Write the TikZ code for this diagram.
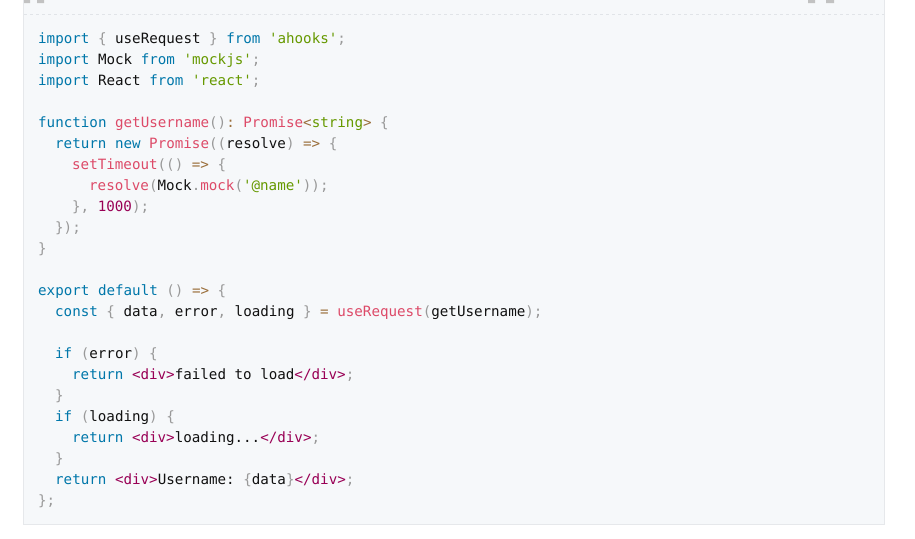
\documentclass[tikz,border=0pt]{standalone}
\usepackage{fontspec}
\setmonofont{DejaVu Sans Mono}
\definecolor{kw}{HTML}{0077AA}
\definecolor{fn}{HTML}{DD4A68}
\definecolor{st}{HTML}{669900}
\definecolor{pu}{HTML}{999999}
\definecolor{op}{HTML}{9A6E3A}
\definecolor{nm}{HTML}{990055}
\definecolor{tx}{HTML}{111111}
\definecolor{panel}{HTML}{F6F8FA}
\definecolor{pborder}{HTML}{E6E8EB}
\definecolor{dashc}{HTML}{E1E4E8}
\newcommand{\K}[1]{\textcolor{kw}{#1}}
\newcommand{\F}[1]{\textcolor{fn}{#1}}
\newcommand{\Sg}[1]{\textcolor{st}{#1}}
\newcommand{\Pu}[1]{\textcolor{pu}{#1}}
\newcommand{\Op}[1]{\textcolor{op}{#1}}
\newcommand{\N}[1]{\textcolor{nm}{#1}}
\begin{document}
\begin{tikzpicture}[x=1pt,y=-1pt,
  code/.style={anchor=base west,inner sep=0pt,text=tx,font=\ttfamily\fontsize{14.2}{21}\selectfont}]
\useasboundingbox (0,0) rectangle (915,538);
\fill[white] (0,0) rectangle (915,538);
\draw[fill=panel,draw=pborder] (23.5,-5) rectangle (884.5,524.5);
\draw[dashc,dash pattern=on 3pt off 3pt] (24,14) -- (884,14);
\fill[pu!60] (24,0) rectangle (30,3) (37,0) rectangle (44,3) (808,0) rectangle (815,3) (826,0) rectangle (834,3);
\def\L#1#2#3{\node[code] (l#1) at ({38+17*#2},{43+21*#1}) {#3};}
\L{0}{0}{\K{import} \Pu{\{} useRequest \Pu{\}} \K{from} \Sg{'ahooks'}\Pu{;}}
\L{1}{0}{\K{import} Mock \K{from} \Sg{'mockjs'}\Pu{;}}
\L{2}{0}{\K{import} React \K{from} \Sg{'react'}\Pu{;}}
\L{4}{0}{\K{function} \F{getUsername}\Pu{()}\Op{:} \F{Promise}\Op{<}\Sg{string}\Op{>} \Pu{\{}}
\L{5}{1}{\K{return} \K{new} \F{Promise}\Pu{((}resolve\Pu{)} \Op{=>} \Pu{\{}}
\L{6}{2}{\F{setTimeout}\Pu{(()} \Op{=>} \Pu{\{}}
\L{7}{3}{\F{resolve}\Pu{(}Mock\Pu{.}\F{mock}\Pu{(}\Sg{'@name'}\Pu{));}}
\L{8}{2}{\Pu{\},} \N{1000}\Pu{);}}
\L{9}{1}{\Pu{\});}}
\L{10}{0}{\Pu{\}}}
\L{12}{0}{\K{export} \K{default} \Pu{()} \Op{=>} \Pu{\{}}
\L{13}{1}{\K{const} \Pu{\{} data\Pu{,} error\Pu{,} loading \Pu{\}} \Op{=} \F{useRequest}\Pu{(}getUsername\Pu{);}}
\L{15}{1}{\K{if} \Pu{(}error\Pu{)} \Pu{\{}}
\L{16}{2}{\K{return} \N{<div>}failed to load\N{</div>}\Pu{;}}
\L{17}{1}{\Pu{\}}}
\L{18}{1}{\K{if} \Pu{(}loading\Pu{)} \Pu{\{}}
\L{19}{2}{\K{return} \N{<div>}loading...\N{</div>}\Pu{;}}
\L{20}{1}{\Pu{\}}}
\L{21}{1}{\K{return} \N{<div>}Username: \Pu{\{}data\Pu{\}}\N{</div>}\Pu{;}}
\L{22}{0}{\Pu{\};}}
\end{tikzpicture}
\end{document}
